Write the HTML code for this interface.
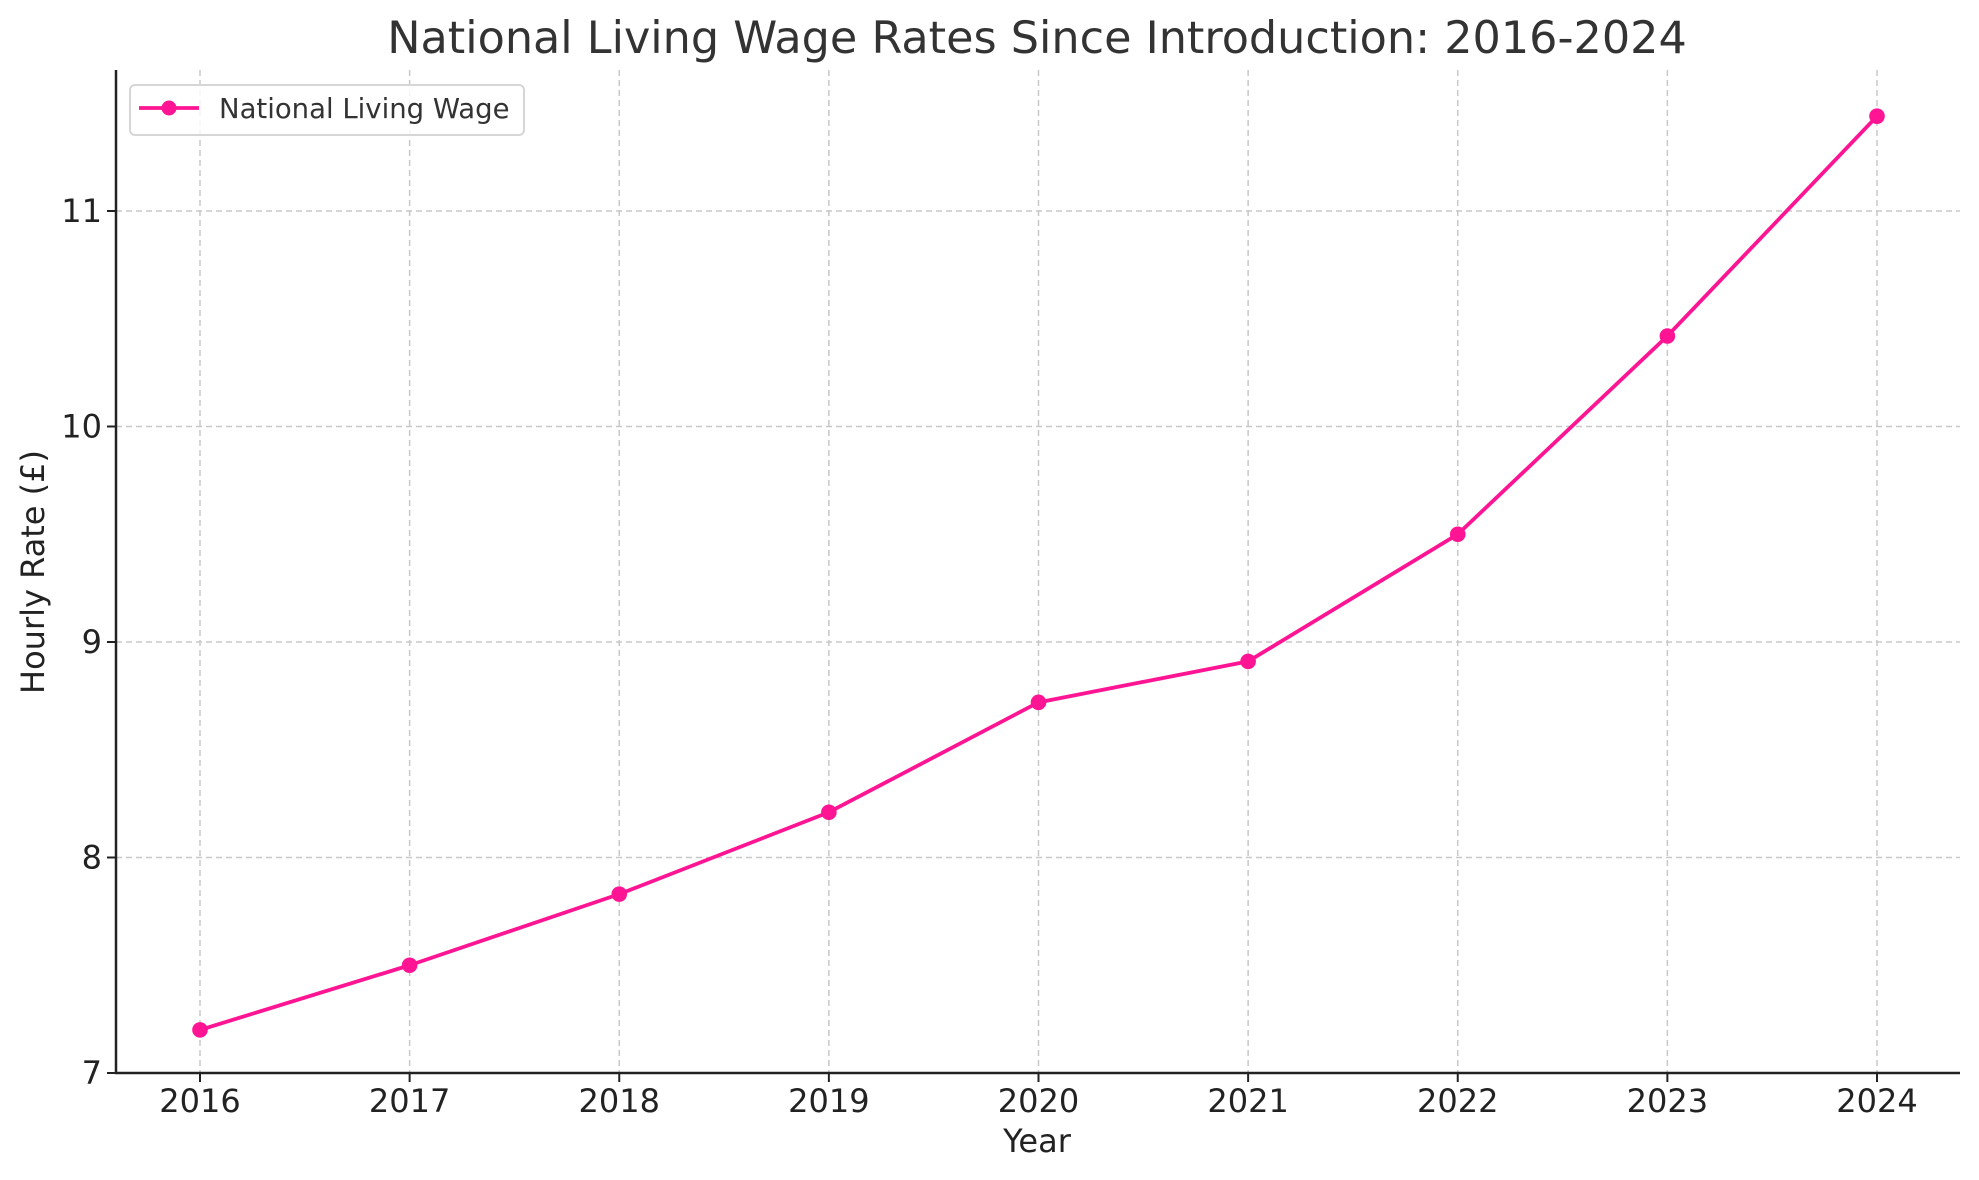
<!DOCTYPE html>
<html><head><meta charset="utf-8"><style>
html,body{margin:0;padding:0;background:#fff;}
svg{display:block;font-family:"DejaVu Sans","Liberation Sans",sans-serif;}
</style></head><body>
<svg id="chart" width="1979" height="1180" viewBox="0 0 1979 1180">
<text x="1037" y="53" font-size="44.5" fill="#333" text-anchor="middle">National Living Wage Rates Since Introduction: 2016-2024</text>
<g id="grid"></g>
<g id="axes"></g>
<g id="series"></g>
<text x="1037" y="1152" font-size="32" fill="#222" text-anchor="middle">Year</text>
<text transform="translate(44,572) rotate(-90)" font-size="32" fill="#222" text-anchor="middle">Hourly Rate (£)</text>
<g>
<rect x="130" y="85" width="394" height="50" rx="5" fill="#fff" fill-opacity="0.8" stroke="#d6d6d6" stroke-width="2"/>
<line x1="139" y1="108" x2="199" y2="108" stroke="#ff1493" stroke-width="3.8"/>
<circle cx="169" cy="108" r="7.5" fill="#ff1493"/>
<text x="219" y="118" font-size="27.5" fill="#333">National Living Wage</text>
</g>
</svg>
<script>
const years = [2016, 2017, 2018, 2019, 2020, 2021, 2022, 2023, 2024];
const wages = [7.20, 7.50, 7.83, 8.21, 8.72, 8.91, 9.50, 10.42, 11.44];
const yTicks = [7, 8, 9, 10, 11];

const NS = "http://www.w3.org/2000/svg";
const L = 116, R = 1960, T = 70, B = 1073;
function xs(v){ return 200 + (v - 2016) * (1877 - 200) / 8; }
function ys(v){ return 1073 - (v - 7) * 215.5; }
function mk(tag, attrs, parent){ const e = document.createElementNS(NS, tag); for (const k in attrs) e.setAttribute(k, attrs[k]); parent.appendChild(e); return e; }
const grid = document.getElementById('grid'), axes = document.getElementById('axes'), series = document.getElementById('series');

years.forEach(y => {
  const x = xs(y);
  const g = mk('line', {x1:x, x2:x, y1:T, y2:B, stroke:'#c8c8c8', 'stroke-width':1.5, 'stroke-dasharray':'6,4'}, grid);
  
  
  const t = mk('line', {x1:x, x2:x, y1:B, y2:B+9, stroke:'#222', 'stroke-width':2}, axes);
  
  
  const lb = mk('text', {x:x, y:B+39, 'font-size':32, fill:'#222', 'text-anchor':'middle'}, axes);
  lb.textContent = y;
  
  
});
yTicks.forEach(v => {
  const y = ys(v);
  const g = mk('line', {x1:L, x2:R, y1:y, y2:y, stroke:'#c8c8c8', 'stroke-width':1.5, 'stroke-dasharray':'6,4'}, grid);
  
  
  const t = mk('line', {x1:L-9, x2:L, y1:y, y2:y, stroke:'#222', 'stroke-width':2}, axes);
  
  
  const lb = mk('text', {x:L-14, y:y+11, 'font-size':32, fill:'#222', 'text-anchor':'end'}, axes);
  lb.textContent = v;
  
  
});
const ya = mk('line', {x1:L, x2:L, y1:T, y2:B+1, stroke:'#222', 'stroke-width':2.5}, axes);


const xa = mk('line', {x1:L-1, x2:R, y1:B, y2:B, stroke:'#222', 'stroke-width':2.5}, axes);



const pts = years.map((y,i) => xs(y) + ',' + ys(wages[i])).join(' ');
const pl = mk('polyline', {points:pts, fill:'none', stroke:'#ff1493', 'stroke-width':3.8, 'stroke-linejoin':'round'}, series);


years.forEach((y,i) => {
  const c = mk('circle', {cx:xs(y), cy:ys(wages[i]), r:7.8, fill:'#ff1493'}, series);
  
  
});
</script>
</body></html>
